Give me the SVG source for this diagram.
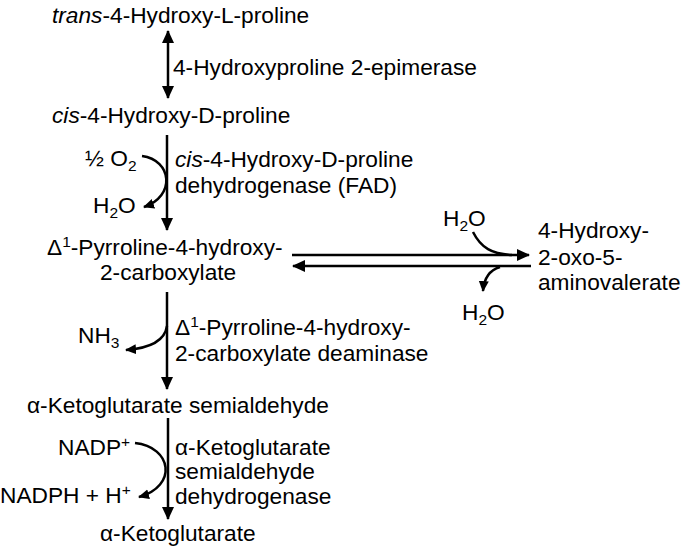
<svg xmlns="http://www.w3.org/2000/svg" width="685" height="549" viewBox="0 0 685 549">
<style>
text{font-family:"Liberation Sans",Arial,sans-serif;font-size:22.7px;fill:#000}
.i{font-style:italic}
.s{font-size:15.5px}
.ln{fill:none;stroke:#000;stroke-width:2.5}
.cv{fill:none;stroke:#000;stroke-width:2.5}
</style>
<defs>
<marker id="ah" markerUnits="userSpaceOnUse" markerWidth="14" markerHeight="14" refX="12" refY="6" orient="auto-start-reverse">
<path d="M0,0 L13,6 L0,12 z" fill="#000"/>
</marker>
<marker id="ahs" markerUnits="userSpaceOnUse" markerWidth="14" markerHeight="14" refX="10" refY="5" orient="auto">
<path d="M0,0 L11,5 L0,10 z" fill="#000"/>
</marker>
</defs>
<rect width="685" height="549" fill="#fff"/>
<g id="connectors">
<path class="ln" d="M168,31 L168,98" marker-start="url(#ah)" marker-end="url(#ah)"/>
<path class="ln" d="M167,135 L167,230" marker-end="url(#ah)"/>
<path class="cv" d="M142,156 C172,160 176,196 144,207" marker-end="url(#ahs)"/>
<path class="ln" d="M292,255 L529,255" marker-end="url(#ah)"/>
<path class="ln" d="M531,266 L293,266" marker-end="url(#ah)"/>
<path class="cv" d="M473,232 C481,248 492,254 512,255"/>
<path class="cv" d="M500,267 C490,270 484,278 483,291" marker-end="url(#ahs)"/>
<path class="ln" d="M167,292 L167,389" marker-end="url(#ah)"/>
<path class="cv" d="M167,326 C165,340 152,348 126,350" marker-end="url(#ahs)"/>
<path class="ln" d="M168,418 L168,519" marker-end="url(#ah)"/>
<path class="cv" d="M135,443 C172,447 178,486 139,497" marker-end="url(#ahs)"/>
</g>
<g id="n-trans"><text x="52" y="23"><tspan class="i">trans</tspan>-4-Hydroxy-L-proline</text></g>
<g id="e-epimerase"><text x="173" y="75">4-Hydroxyproline 2-epimerase</text></g>
<g id="n-cis"><text x="52" y="123"><tspan class="i">cis</tspan>-4-Hydroxy-D-proline</text></g>
<g id="c-o2"><text x="85" y="166">½ O<tspan class="s" dy="5">2</tspan></text></g>
<g id="e-dehydrogenase"><text x="175" y="167"><tspan class="i">cis</tspan>-4-Hydroxy-D-proline</text><text x="175" y="193">dehydrogenase (FAD)</text></g>
<g id="c-h2o-1"><text x="93" y="213">H<tspan class="s" dy="5">2</tspan><tspan dy="-5">O</tspan></text></g>
<g id="n-p4h2c"><text x="47" y="255">Δ<tspan class="s" dy="-8">1</tspan><tspan dy="8">-Pyrroline-4-hydroxy-</tspan></text><text x="100" y="280">2-carboxylate</text></g>
<g id="c-h2o-2"><text x="443" y="226">H<tspan class="s" dy="5">2</tspan><tspan dy="-5">O</tspan></text></g>
<g id="n-hoav"><text x="538" y="238">4-Hydroxy-</text><text x="538" y="265">2-oxo-5-</text><text x="538" y="290">aminovalerate</text></g>
<g id="c-h2o-3"><text x="462" y="320">H<tspan class="s" dy="5">2</tspan><tspan dy="-5">O</tspan></text></g>
<g id="c-nh3"><text x="78" y="343">NH<tspan class="s" dy="5">3</tspan></text></g>
<g id="e-deaminase"><text x="175" y="335">Δ<tspan class="s" dy="-8">1</tspan><tspan dy="8">-Pyrroline-4-hydroxy-</tspan></text><text x="175" y="361">2-carboxylate deaminase</text></g>
<g id="n-kgsa"><text x="27" y="413">α-Ketoglutarate semialdehyde</text></g>
<g id="c-nadp"><text x="58" y="455">NADP<tspan class="s" dy="-8">+</tspan></text></g>
<g id="e-kgsadh"><text x="175" y="455">α-Ketoglutarate</text><text x="175" y="479">semialdehyde</text><text x="175" y="504">dehydrogenase</text></g>
<g id="c-nadph"><text x="0" y="503">NADPH + H<tspan class="s" dy="-8">+</tspan></text></g>
<g id="n-kg"><text x="100" y="541">α-Ketoglutarate</text></g>
</svg>
